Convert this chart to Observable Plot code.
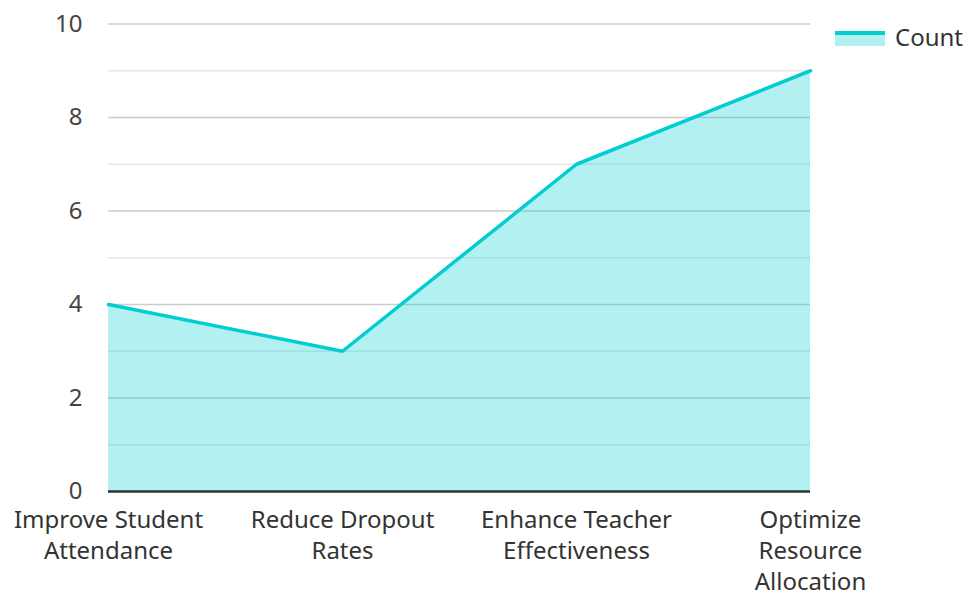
<!DOCTYPE html>
<html>
<head>
<meta charset="utf-8">
<script src="https://cdn.jsdelivr.net/npm/d3@7"></script>
<script src="https://cdn.jsdelivr.net/npm/@observablehq/plot@0.6"></script>
<style>
  html, body { margin: 0; padding: 0; background: #fff; }
  #wrap { position: relative; width: 968px; height: 595px; font-family: "Noto Sans", "Open Sans", sans-serif; }
  #legend { position: absolute; left: 835px; top: 20px; display: flex; align-items: center; font-size: 24px; color: #333; }
  #legend .sw { width: 50px; height: 15px; background: rgba(0,206,209,0.3); border-top: 4px solid #00ced1; box-sizing: border-box; margin-right: 10px; margin-top: 4px; }
</style>
</head>
<body>
<div id="wrap">
  <div id="chart"></div>
  <div id="legend"><span class="sw"></span><span>Count</span></div>
</div>
<script>
const categories = ["Improve Student Attendance", "Reduce Dropout Rates", "Enhance Teacher Effectiveness", "Optimize Resource Allocation"];
const tickLabels = ["Improve Student\nAttendance", "Reduce Dropout\nRates", "Enhance Teacher\nEffectiveness", "Optimize\nResource\nAllocation"];
const counts = [4, 3, 7, 9];
const majorTicks = [0, 2, 4, 6, 8, 10];
const minorTicks = [1, 3, 5, 7, 9];
const seriesName = "Count";

const data = categories.map((c, i) => ({category: c, value: counts[i]}));
const labelOf = new Map(categories.map((c, i) => [c, tickLabels[i]]));

const chart = Plot.plot({
  width: 968,
  height: 595,
  marginLeft: 108,
  marginRight: 158,
  marginTop: 23.5,
  marginBottom: 104,
  style: {fontFamily: "'Noto Sans', 'Open Sans', sans-serif", fontSize: "24px", color: "#444", background: "#fff"},
  x: {type: "point", domain: categories, padding: 0, label: null},
  y: {domain: [0, 10], label: null},
  marks: [
    Plot.ruleY(minorTicks, {stroke: "#e6e6e6", strokeWidth: 1.5}),
    Plot.ruleY(majorTicks, {stroke: "#cccccc", strokeWidth: 1.5}),
    Plot.areaY(data, {x: "category", y: "value", fill: "#00ced1", fillOpacity: 0.3}),
    Plot.lineY(data, {x: "category", y: "value", stroke: "#00ced1", strokeWidth: 3.5}),
    Plot.ruleY([0], {stroke: "#333", strokeWidth: 2.5}),
    Plot.axisY({ticks: majorTicks, tickSize: 0, tickPadding: 26, fontSize: 24, fill: "#444"}),
    Plot.axisX({tickSize: 0, tickPadding: 14, fontSize: 24, fill: "#333", lineHeight: 1.3, tickFormat: d => labelOf.get(d)})
  ]
});
document.getElementById("chart").appendChild(chart);
</script>
</body>
</html>
